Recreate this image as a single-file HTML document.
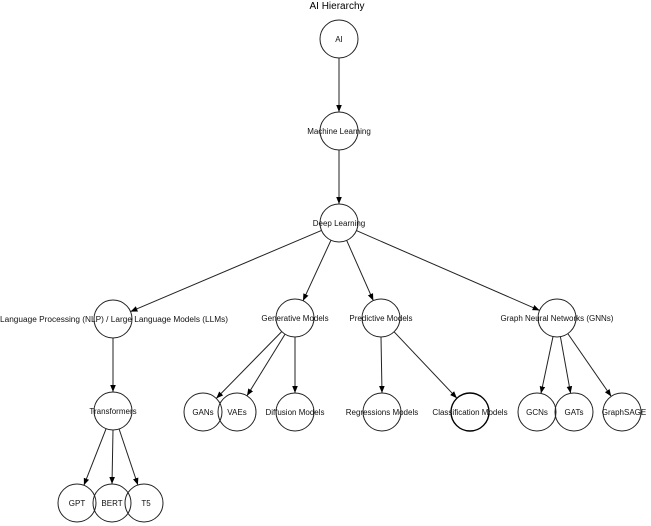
<!DOCTYPE html>
<html><head><style>html,body{margin:0;padding:0;background:#fff}svg{display:block}</style></head>
<body>
<svg width="651" height="526" viewBox="0 0 651 526" xmlns="http://www.w3.org/2000/svg" font-family="Liberation Sans, sans-serif">
<defs><marker id="a" viewBox="0 0 10 10" refX="10" refY="5" markerWidth="7" markerHeight="7" orient="auto"><path d="M0,1 L10,5 L0,9 z" fill="#000"/></marker></defs>
<text x="337" y="9" font-size="10" text-anchor="middle">AI Hierarchy</text>
<g stroke="#222" stroke-width="1" fill="none" marker-end="url(#a)">
<line x1="339" y1="58" x2="339" y2="112"/>
<line x1="339" y1="150" x2="339" y2="204"/>
<line x1="321.5" y1="230.4" x2="130.5" y2="311.6"/>
<line x1="331" y1="240.2" x2="303" y2="300.8"/>
<line x1="346.7" y1="240.4" x2="373.3" y2="300.6"/>
<line x1="356.4" y1="230.6" x2="539.6" y2="310.4"/>
<line x1="113" y1="338" x2="113" y2="392"/>
<line x1="106.1" y1="428.7" x2="83.9" y2="485.3"/>
<line x1="113" y1="430" x2="112" y2="484"/>
<line x1="119.1" y1="429" x2="137.9" y2="485"/>
<line x1="281.7" y1="331.6" x2="216.3" y2="398.4"/>
<line x1="285" y1="334.2" x2="247" y2="395.8"/>
<line x1="295" y1="337" x2="295" y2="393"/>
<line x1="381" y1="337" x2="382" y2="393"/>
<line x1="394.1" y1="331.8" x2="456.9" y2="398.2"/>
<line x1="553" y1="336.6" x2="541" y2="393.4"/>
<line x1="560.4" y1="336.7" x2="570.6" y2="393.3"/>
<line x1="567.8" y1="333.6" x2="611.2" y2="396.4"/>
</g>
<g stroke="#222" stroke-width="1" fill="none">
<circle cx="339" cy="39" r="19"/>
<circle cx="339" cy="131" r="19"/>
<circle cx="339" cy="223" r="19"/>
<circle cx="113" cy="319" r="19"/>
<circle cx="295" cy="318" r="19"/>
<circle cx="381" cy="318" r="19"/>
<circle cx="557" cy="318" r="19"/>
<circle cx="113" cy="411" r="19"/>
<circle cx="77" cy="503" r="19"/>
<circle cx="112" cy="503" r="19"/>
<circle cx="144" cy="503" r="19"/>
<circle cx="203" cy="412" r="19"/>
<circle cx="237" cy="412" r="19"/>
<circle cx="295" cy="412" r="19"/>
<circle cx="382" cy="412" r="19"/>
<circle cx="470" cy="412" r="19" stroke-width="1.4" stroke="#000"/>
<circle cx="537" cy="412" r="19"/>
<circle cx="574" cy="412" r="19"/>
<circle cx="622" cy="412" r="19"/>
</g>
<g font-size="8" text-anchor="middle" fill="#111">
<text x="339" y="42">AI</text>
<text x="339" y="134">Machine Learning</text>
<text x="339" y="226">Deep Learning</text>
<text x="114" y="322" textLength="228" lengthAdjust="spacingAndGlyphs">Language Processing (NLP) / Large Language Models (LLMs)</text>
<text x="295" y="321">Generative Models</text>
<text x="381" y="321">Predictive Models</text>
<text x="557" y="321">Graph Neural Networks (GNNs)</text>
<text x="113" y="414">Transformers</text>
<text x="77" y="506">GPT</text>
<text x="112" y="506">BERT</text>
<text x="146" y="506">T5</text>
<text x="203" y="415">GANs</text>
<text x="237" y="415">VAEs</text>
<text x="295" y="415">Diffusion Models</text>
<text x="382" y="415">Regressions Models</text>
<text x="470" y="415">Classification Models</text>
<text x="537" y="415">GCNs</text>
<text x="574" y="415">GATs</text>
<text x="624" y="415">GraphSAGE</text>
</g>
</svg>
</body></html>
